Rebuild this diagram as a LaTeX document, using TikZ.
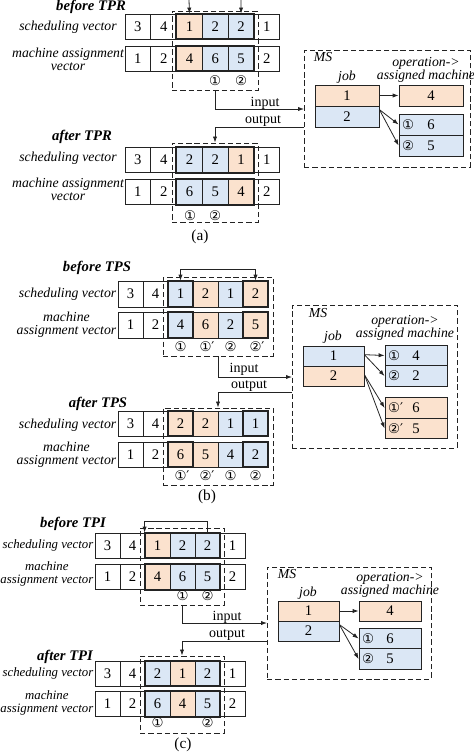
\documentclass[tikz,border=0pt]{standalone}
\usepackage{fontspec}
\setmainfont{Liberation Serif}
\newfontfamily\symf{DejaVu Sans}
\usetikzlibrary{arrows.meta}
\definecolor{orng}{RGB}{251,226,206}
\definecolor{blu}{RGB}{219,231,245}
\definecolor{ln}{RGB}{35,35,35}
\newcommand\cellrow[6]{%
  \foreach \va/\vb [count=\vi] in {#6} {%
    \node[cell, fill=\vb, minimum width={#3*0.75pt}, minimum height={#5*0.75pt}] (#1c\vi) at ({#2+(\vi-0.5)*#3},#4) {\va};
  }}
\tikzset{
  cell/.style={draw=ln, line width=0.6pt, inner sep=0pt, font=\fontsize{11}{12}\selectfont},
  boldr/.style={draw=ln, line width=1.5pt},
  dbox/.style={draw=ln, dash pattern=on 4pt off 2.2pt, line width=0.7pt, inner sep=0pt},
  arr/.style={-{Latex[length=4.5pt,width=3.2pt]}, line width=0.6pt, draw=ln},
  arrb/.style={{Latex[length=4.5pt,width=3.2pt]}-{Latex[length=4.5pt,width=3.2pt]}, line width=0.6pt, draw=ln},
  lbl/.style={font=\itshape\fontsize{10.3}{10}\selectfont, align=center, inner sep=0pt},
  lbls/.style={font=\itshape\fontsize{9.6}{9.8}\selectfont, align=center, inner sep=0pt},
  ttl/.style={font=\bfseries\itshape\fontsize{11}{12}\selectfont, inner sep=0pt},
  cl/.style={font=\symf\fontsize{10}{10}\selectfont, inner sep=0pt},
  txt/.style={font=\fontsize{10.5}{12}\selectfont, inner sep=0pt},
  captxt/.style={font=\fontsize{11.5}{12}\selectfont, inner sep=0pt},
  msb/.style={draw=ln, line width=0.6pt, inner sep=0pt, font=\fontsize{11}{12}\selectfont},
}
\begin{document}
\begin{tikzpicture}[x=0.75pt,y=-0.75pt]
\useasboundingbox (0,0) rectangle (474,753);

%% ================= panel (a) =================
\node[ttl] (tA1) at (91,6.5) {before TPR};
\node[lbl] (lA1) at (68,27) {scheduling vector};
\node[lbl] (lA2) at (68,59) {machine assignment\\vector};
\cellrow{aB1}{125}{25.8}{26.5}{25}{3/white,4/white,1/orng,2/blu,2/blu,1/white}
\cellrow{aB2}{125}{25.8}{58.5}{25}{1/white,2/white,4/orng,6/blu,5/blu,2/white}
\draw[boldr] (aB1c3.north west) rectangle (aB1c5.south east);
\draw[boldr] (aB2c3.north west) rectangle (aB2c5.south east);
\node[dbox, minimum width={86*0.75pt}, minimum height={79*0.75pt}] (aBbox) at (215,50.5) {};
\node[cl] (aBl1) at (215,81) {①};
\node[cl] (aBl2) at (241,81) {②};
\coordinate (tprA) at (189,0);
\coordinate (tprB) at (241,0);
\draw[arr] (tprA) -- (aB1c3.north);
\draw[arr] (tprB) -- (aB1c5.north);

\node[ttl] (tA2) at (82,137) {after TPR};
\node[lbl] (lA3) at (68,158) {scheduling vector};
\node[lbl] (lA4) at (68,189) {machine assignment\\vector};
\cellrow{aA1}{125}{25.8}{160}{25}{3/white,4/white,2/blu,2/blu,1/orng,1/white}
\cellrow{aA2}{125}{25.8}{192}{25}{1/white,2/white,6/blu,5/blu,4/orng,2/white}
\draw[boldr] (aA1c3.north west) rectangle (aA1c5.south east);
\draw[boldr] (aA2c3.north west) rectangle (aA2c5.south east);
\node[dbox, minimum width={86*0.75pt}, minimum height={79*0.75pt}] (aAbox) at (215,182.5) {};
\node[cl] (aAl1) at (190,216) {①};
\node[cl] (aAl2) at (215,216) {②};
\node[captxt] (capA) at (200,237) {(a)};

% MS (a)
\node[dbox, minimum width={166*0.75pt}, minimum height={117*0.75pt}] (aMS) at (387,108.5) {};
\node[lbl] (aMSt) at (323,57) {MS};
\node[lbl] (aJob) at (347,77) {job};
\node[lbl] (aOp) at (426,70) {operation-{}>\\assigned machine};
\node[msb, fill=orng, minimum width={64*0.75pt}, minimum height={21*0.75pt}] (jA1) at (347,95.5) {1};
\node[msb, fill=blu, minimum width={64*0.75pt}, minimum height={21*0.75pt}] (jA2) at (347,116.5) {2};
\node[msb, fill=orng, minimum width={64*0.75pt}, minimum height={21*0.75pt}] (mA1) at (431,95.5) {4};
\node[msb, fill=blu, minimum width={64*0.75pt}, minimum height={21*0.75pt}] (mA2) at (431,124.5) {6};
\node[msb, fill=blu, minimum width={64*0.75pt}, minimum height={21*0.75pt}] (mA3) at (431,145.5) {5};
\node[cl, anchor=west] (mA2l) at ([xshift=2.5pt]mA2.west) {①};
\node[cl, anchor=west] (mA3l) at ([xshift=2.5pt]mA3.west) {②};
\draw[arr] (jA1.east) -- (mA1.west);
\draw[arr] ([yshift=-3pt]jA2.north east) -- (mA2.west);
\draw[arr] ([yshift=-3pt]jA2.north east) -- (mA3.west);

\coordinate (aIn) at (304,109);
\coordinate (aOut) at (304,127);
\draw[arr] (aBbox.south) |- (aIn);
\draw[arr] (aOut) -| (aAbox.north);
\node[txt] (aInT) at (265,103) {input};
\node[txt] (aOutT) at (263,121) {output};

%% ================= panel (b) =================
\node[ttl] (tB1) at (97,268) {before TPS};
\node[lbl, anchor=east] (lB1) at (116.5,294) {scheduling vector};
\node[lbl, anchor=east] (lB2) at (116.5,325) {machine\\assignment vector};
\cellrow{bB1}{118}{25}{294}{26}{3/white,4/white,1/blu,2/orng,1/blu,2/orng}
\cellrow{bB2}{118}{25}{325}{26}{1/white,2/white,4/blu,6/orng,2/blu,5/orng}
\draw[boldr] (bB1c3.north west) rectangle (bB1c3.south east);
\draw[boldr] (bB1c6.north west) rectangle (bB1c6.south east);
\draw[boldr] (bB2c3.north west) rectangle (bB2c3.south east);
\draw[boldr] (bB2c6.north west) rectangle (bB2c6.south east);
\node[dbox, minimum width={110*0.75pt}, minimum height={79*0.75pt}] (bBbox) at (218,316.5) {};
\node[cl] (bBl1) at (180.5,347) {①};
\node[cl] (bBl2) at (207,347) {①′};
\node[cl] (bBl3) at (230.5,347) {②};
\node[cl] (bBl4) at (257,347) {②′};
\draw[arrb] (bB1c3.north) -- ++(0,-11) -| (bB1c6.north);

\node[ttl] (tB2) at (98,404) {after TPS};
\node[lbl, anchor=east] (lB3) at (116.5,425) {scheduling vector};
\node[lbl, anchor=east] (lB4) at (116.5,455) {machine\\assignment vector};
\cellrow{bA1}{118}{25}{423.5}{25}{3/white,4/white,2/orng,2/orng,1/blu,1/blu}
\cellrow{bA2}{118}{25}{454.5}{25}{1/white,2/white,6/orng,5/orng,4/blu,2/blu}
\draw[boldr] (bA1c3.north west) rectangle (bA1c3.south east);
\draw[boldr] (bA1c6.north west) rectangle (bA1c6.south east);
\draw[boldr] (bA2c3.north west) rectangle (bA2c3.south east);
\draw[boldr] (bA2c6.north west) rectangle (bA2c6.south east);
\node[dbox, minimum width={110*0.75pt}, minimum height={77*0.75pt}] (bAbox) at (218,446.5) {};
\node[cl] (bAl1) at (182,476) {①′};
\node[cl] (bAl2) at (207,476) {②′};
\node[cl] (bAl3) at (230.5,476) {①};
\node[cl] (bAl4) at (255.5,476) {②};
\node[captxt] (capB) at (207,497) {(b)};

% MS (b)
\node[dbox, minimum width={165*0.75pt}, minimum height={143*0.75pt}] (bMS) at (374.5,376.5) {};
\node[lbl] (bMSt) at (318,313) {MS};
\node[lbl] (bJob) at (333,337) {job};
\node[lbl] (bOp) at (405,328) {operation-{}>\\assigned machine};
\node[msb, fill=blu, minimum width={61*0.75pt}, minimum height={20*0.75pt}] (jB1) at (333.5,356) {1};
\node[msb, fill=orng, minimum width={61*0.75pt}, minimum height={20*0.75pt}] (jB2) at (333.5,376) {2};
\node[msb, fill=blu, minimum width={62*0.75pt}, minimum height={20.5*0.75pt}] (mB1) at (416,355.5) {4};
\node[msb, fill=blu, minimum width={62*0.75pt}, minimum height={20.5*0.75pt}] (mB2) at (416,376) {2};
\node[msb, fill=orng, minimum width={62*0.75pt}, minimum height={20.5*0.75pt}] (mB3) at (416,408) {6};
\node[msb, fill=orng, minimum width={62*0.75pt}, minimum height={20.5*0.75pt}] (mB4) at (416,428.5) {5};
\node[cl, anchor=west] (mB1l) at ([xshift=2.5pt]mB1.west) {①};
\node[cl, anchor=west] (mB2l) at ([xshift=2.5pt]mB2.west) {②};
\node[cl, anchor=west] (mB3l) at ([xshift=2.5pt]mB3.west) {①′};
\node[cl, anchor=west] (mB4l) at ([xshift=2.5pt]mB4.west) {②′};
\draw[arr] ([yshift=1pt]jB1.east) -- (mB1.west);
\draw[arr] ([yshift=1pt]jB1.east) -- (mB2.west);
\draw[arr] ([yshift=1pt]jB2.east) -- (mB3.west);
\draw[arr] ([yshift=1pt]jB2.east) -- (mB4.west);

\coordinate (bIn) at (292,377);
\coordinate (bOut) at (292,392);
\draw[arr] (bBbox.south) |- (bIn);
\draw[arr] (bOut) -| (bAbox.north);
\node[txt] (bInT) at (244,369) {input};
\node[txt] (bOutT) at (249,386) {output};

%% ================= panel (c) =================
\node[ttl] (tC1) at (73,524) {before TPI};
\node[lbls, anchor=east] (lC1) at (93.5,545) {scheduling vector};
\node[lbls, anchor=east] (lC2) at (93.5,574) {machine\\assignment vector};
\cellrow{cB1}{95}{25}{545.5}{25}{3/white,4/white,1/orng,2/blu,2/blu,1/white}
\cellrow{cB2}{95}{25}{577}{25.5}{1/white,2/white,4/orng,6/blu,5/blu,2/white}
\draw[boldr] (cB1c3.north west) rectangle (cB1c5.south east);
\draw[boldr] (cB2c3.north west) rectangle (cB2c5.south east);
\node[dbox, minimum width={84*0.75pt}, minimum height={77*0.75pt}] (cBbox) at (182,566.5) {};
\node[cl] (cBl1) at (182.5,596) {①};
\node[cl] (cBl2) at (207.5,596) {②};
\draw[arr] (cB1c5.north) -- ++(0,-11) -| (cB1c3.north west);

\node[ttl] (tC2) at (65,657) {after TPI};
\node[lbls, anchor=east] (lC3) at (93.5,673) {scheduling vector};
\node[lbls, anchor=east] (lC4) at (93.5,703) {machine\\assignment vector};
\cellrow{cA1}{95}{25}{673.5}{25}{3/white,4/white,2/blu,1/orng,2/blu,1/white}
\cellrow{cA2}{95}{25}{704}{25.5}{1/white,2/white,6/blu,4/orng,5/blu,2/white}
\draw[boldr] (cA1c3.north west) rectangle (cA1c5.south east);
\draw[boldr] (cA2c3.north west) rectangle (cA2c5.south east);
\node[dbox, minimum width={84*0.75pt}, minimum height={77*0.75pt}] (cAbox) at (182,694.5) {};
\node[cl] (cAl1) at (157.5,723) {①};
\node[cl] (cAl2) at (207.5,723) {②};
\node[captxt] (capC) at (183,745) {(c)};

% MS (c)
\node[dbox, minimum width={164*0.75pt}, minimum height={112*0.75pt}] (cMS) at (349,623) {};
\node[lbl] (cMSt) at (287,574) {MS};
\node[lbl] (cJob) at (308,593) {job};
\node[lbl] (cOp) at (390,585) {operation-{}>\\assigned machine};
\node[msb, fill=orng, minimum width={61*0.75pt}, minimum height={20*0.75pt}] (jC1) at (308.5,611) {1};
\node[msb, fill=blu, minimum width={61*0.75pt}, minimum height={20*0.75pt}] (jC2) at (308.5,631) {2};
\node[msb, fill=orng, minimum width={62*0.75pt}, minimum height={20*0.75pt}] (mC1) at (390,611) {4};
\node[msb, fill=blu, minimum width={62*0.75pt}, minimum height={20.5*0.75pt}] (mC2) at (390,638.5) {6};
\node[msb, fill=blu, minimum width={62*0.75pt}, minimum height={20.5*0.75pt}] (mC3) at (390,659) {5};
\node[cl, anchor=west] (mC2l) at ([xshift=2.5pt]mC2.west) {①};
\node[cl, anchor=west] (mC3l) at ([xshift=2.5pt]mC3.west) {②};
\draw[arr] (jC1.east) -- (mC1.west);
\draw[arr] ([yshift=-3pt]jC2.north east) -- (mC2.west);
\draw[arr] ([yshift=-3pt]jC2.north east) -- (mC3.west);

\coordinate (cIn) at (267,623);
\coordinate (cOut) at (267,641);
\draw[arr] (cBbox.south) |- (cIn);
\draw[arr] (cOut) -| (cAbox.north);
\node[txt] (cInT) at (227,617) {input};
\node[txt] (cOutT) at (227,635) {output};
\end{tikzpicture}
\end{document}
